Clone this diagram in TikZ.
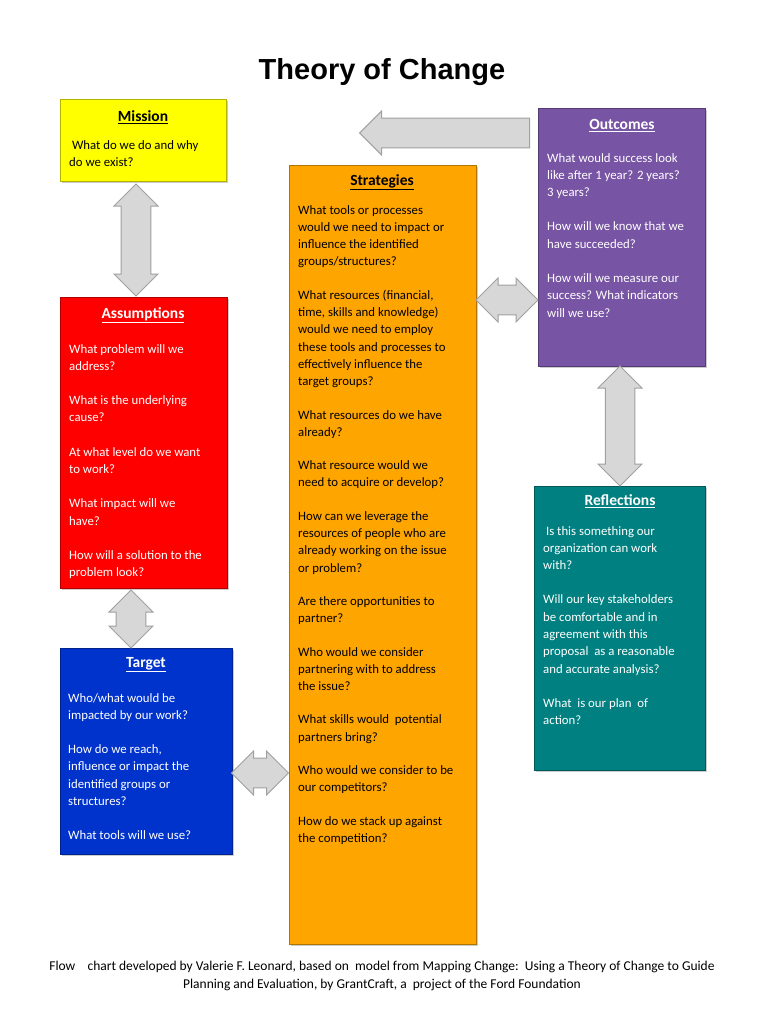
\documentclass[tikz,border=0pt]{standalone}
\usepackage{fontspec}
\setmainfont{Carlito}
\newfontfamily\titlefont{Liberation Sans}
\usetikzlibrary{shapes.arrows,shadows}
\definecolor{myyellow}{RGB}{255,255,0}
\definecolor{myred}{RGB}{255,0,0}
\definecolor{myblue}{RGB}{0,51,204}
\definecolor{myorange}{RGB}{255,165,0}
\definecolor{mypurple}{RGB}{120,84,164}
\definecolor{myteal}{RGB}{0,128,128}
\definecolor{arrowfill}{RGB}{215,215,215}
\definecolor{arrowline}{RGB}{160,160,160}
\newcommand{\shaft}{\rule{0pt}{28pt}}
\begin{document}
\begin{tikzpicture}[x=1pt,y=-1pt,
  box/.style={draw=#1!70!black,fill=#1,anchor=north west,inner sep=0pt,drop shadow={shadow xshift=2pt,shadow yshift=-2pt,opacity=0.4}},
  btitle/.style={anchor=north,font=\fontsize{15.5}{18}\selectfont\bfseries,text=#1},
  btext/.style={anchor=north west,align=left,inner sep=0pt,font=\fontsize{12.8}{17.3}\selectfont,text=#1},
  darr/.style={double arrow,draw=arrowline,fill=arrowfill,line width=1pt,minimum width=44pt,inner sep=0pt},
  sarr/.style={single arrow,draw=arrowline,fill=arrowfill,line width=1pt,minimum width=44pt,inner sep=0pt,rotate=180}]
\useasboundingbox (0,0) rectangle (768,1024);
\fill[white] (0,0) rectangle (768,1024);
\node[font=\titlefont\fontsize{29}{34}\selectfont\bfseries] (title) at (382,72) {Theory of Change};
% boxes
\node[box=myyellow,minimum width=166pt,minimum height=82pt] (mission) at (60,99) {};
\node[box=myred,minimum width=167pt,minimum height=291pt] (assump) at (60,297) {};
\node[box=myblue,minimum width=172pt,minimum height=206pt] (target) at (60,648) {};
\node[box=myorange,minimum width=187pt,minimum height=779pt] (strat) at (289,165) {};
\node[box=mypurple,minimum width=167pt,minimum height=258pt] (outc) at (538,108) {};
\node[box=myteal,minimum width=171pt,minimum height=284pt] (refl) at (534,486) {};
% arrows
\node[sarr,minimum height=170pt] (a1) at (452,133) {\shaft};
\node[darr,minimum height=112pt,rotate=90] (a2) at (136,240) {\shaft};
\node[darr,minimum height=58pt,rotate=90] (a3) at (131,619) {\shaft};
\node[darr,minimum height=62pt] (a4) at (507,300) {\shaft};
\node[darr,minimum height=57pt] (a5) at (260,773) {\shaft};
\node[darr,minimum height=120pt,rotate=90] (a6) at (620,426) {\shaft};
% titles
\node[btitle=black] (t1) at (143,107) {\underline{Mission}};
\node[btitle=white] (t2) at (143,304) {\underline{Assumptions}};
\node[btitle=white] (t3) at (146,654) {\underline{Target}};
\node[btitle=black] (t4) at (382,171) {\underline{Strategies}};
\node[btitle=white] (t5) at (622,116) {\underline{Outcomes}};
\node[btitle=white] (t6) at (620,491) {\underline{Reflections}};
% texts
\node[btext=black] (x1) at (69,140) {\ What do we do and why\\do we exist?};
\node[btext=white] (x2) at (69,344) {What problem will we\\address?\\[17pt]
What is the underlying\\cause?\\[17pt]
At what level do we want\\to work?\\[17pt]
What impact will we\\have?\\[17pt]
How will a solution to the\\problem look?};
\node[btext=white] (x3) at (68,693) {Who/what would be\\impacted by our work?\\[17pt]
How do we reach,\\influence or impact the\\identified groups or\\structures?\\[17pt]
What tools will we use?};
\node[btext=black] (x4) at (298,205) {What tools or processes\\would we need to impact or\\influence the identified\\groups/structures?\\[16pt]
What resources (financial,\\time, skills and knowledge)\\would we need to employ\\these tools and processes to\\effectively influence the\\target groups?\\[16pt]
What resources do we have\\already?\\[16pt]
What resource would we\\need to acquire or develop?\\[16pt]
How can we leverage the\\resources of people who are\\already working on the issue\\or problem?\\[16pt]
Are there opportunities to\\partner?\\[16pt]
Who would we consider\\partnering with to address\\the issue?\\[16pt]
What skills would\ \ potential\\partners bring?\\[16pt]
Who would we consider to be\\our competitors?\\[16pt]
How do we stack up against\\the competition?};
\node[btext=white] (x5) at (547,153) {What would success look\\like after 1 year? 2 years?\\3 years?\\[17pt]
How will we know that we\\have succeeded?\\[17pt]
How will we measure our\\success? What indicators\\will we use?};
\node[btext=white] (x6) at (543,526) {\ Is this something our\\organization can work\\with?\\[17pt]
Will our key stakeholders\\be comfortable and in\\agreement with this\\proposal\ \ as a reasonable\\and accurate analysis?\\[17pt]
What\ \ is our plan\ \ of\\action?};
% footer
\node[align=center,font=\fontsize{13.5}{18}\selectfont] (foot) at (382,976) {Flow\ \ \ \ chart developed by Valerie F. Leonard, based on\ \ model from Mapping Change:\ \ Using a Theory of Change to Guide\\Planning and Evaluation, by GrantCraft, a\ \ project of the Ford Foundation};
\end{tikzpicture}
\end{document}
